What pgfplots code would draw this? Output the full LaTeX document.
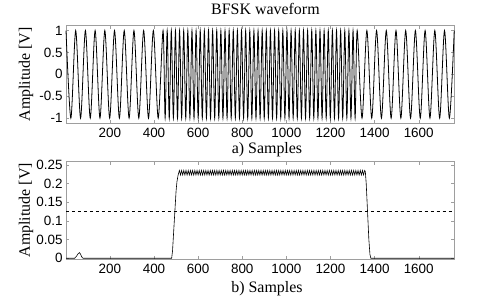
\documentclass[border=0pt]{standalone}
\usepackage{pgfplots}
\pgfplotsset{compat=1.18}
\usepackage{fontspec}
\setmainfont{Liberation Serif}
\newfontfamily\arialfont{Liberation Sans}
\definecolor{framegray}{gray}{0.62}

\pgfplotstableread{
x y
1 1
23 -1
45 1
67 -1
89 1
111 -1
133 1
155 -1
177 1
199 -1
221 1
243 -1
265 1
287 -1
309 1
331 -1
353 1
375 -1
397 1
419 -1
441.0 1
450.4 -1
459.7 1
469.1 -1
478.4 1
487.8 -1
497.2 1
506.5 -1
515.9 1
525.3 -1
534.6 1
544.0 -1
553.3 1
562.7 -1
572.1 1
581.4 -1
590.8 1
600.2 -1
609.5 1
618.9 -1
628.2 1
637.6 -1
647.0 1
656.3 -1
665.7 1
675.1 -1
684.4 1
693.8 -1
703.1 1
712.5 -1
721.9 1
731.2 -1
740.6 1
749.9 -1
759.3 1
768.7 -1
778.0 1
787.4 -1
796.8 1
806.1 -1
815.5 1
824.8 -1
834.2 1
843.6 -1
852.9 1
862.3 -1
871.7 1
881.0 -1
890.4 1
899.7 -1
909.1 1
918.5 -1
927.8 1
937.2 -1
946.5 1
955.9 -1
965.3 1
974.6 -1
984.0 1
993.4 -1
1002.7 1
1012.1 -1
1021.4 1
1030.8 -1
1040.2 1
1049.5 -1
1058.9 1
1068.3 -1
1077.6 1
1087.0 -1
1096.3 1
1105.7 -1
1115.1 1
1124.4 -1
1133.8 1
1143.2 -1
1152.5 1
1161.9 -1
1171.2 1
1180.6 -1
1190.0 1
1199.3 -1
1208.7 1
1218.0 -1
1227.4 1
1236.8 -1
1246.1 1
1255.5 -1
1264.9 1
1274.2 -1
1283.6 1
1292.9 -1
1302.3 1
1311.7 -1
1321 1
1343 -1
1365 1
1387 -1
1409 1
1431 -1
1453 1
1475 -1
1497 1
1519 -1
1541 1
1563 -1
1585 1
1607 -1
1629 1
1651 -1
1673 1
1695 -1
1717 1
1739 -1
1761 1
}\wavetable

\pgfplotstableread{
x y
1 0
40 0
48 0.005
56 0.012
62 0.015
67 0.011
72 0.004
78 0
480 0
484 0.02
488 0.06
492 0.1
496 0.14
500 0.18
504 0.205
509 0.222
515 0.235
520 0.223
525 0.235
530 0.223
535 0.235
540 0.223
545 0.235
550 0.223
555 0.235
560 0.223
565 0.235
570 0.223
575 0.235
580 0.223
585 0.235
590 0.223
595 0.235
600 0.223
605 0.235
610 0.223
615 0.235
620 0.223
625 0.235
630 0.223
635 0.235
640 0.223
645 0.235
650 0.223
655 0.235
660 0.223
665 0.235
670 0.223
675 0.235
680 0.223
685 0.235
690 0.223
695 0.235
700 0.223
705 0.235
710 0.223
715 0.235
720 0.223
725 0.235
730 0.223
735 0.235
740 0.223
745 0.235
750 0.223
755 0.235
760 0.223
765 0.235
770 0.223
775 0.235
780 0.223
785 0.235
790 0.223
795 0.235
800 0.223
805 0.235
810 0.223
815 0.235
820 0.223
825 0.235
830 0.223
835 0.235
840 0.223
845 0.235
850 0.223
855 0.235
860 0.223
865 0.235
870 0.223
875 0.235
880 0.223
885 0.235
890 0.223
895 0.235
900 0.223
905 0.235
910 0.223
915 0.235
920 0.223
925 0.235
930 0.223
935 0.235
940 0.223
945 0.235
950 0.223
955 0.235
960 0.223
965 0.235
970 0.223
975 0.235
980 0.223
985 0.235
990 0.223
995 0.235
1000 0.223
1005 0.235
1010 0.223
1015 0.235
1020 0.223
1025 0.235
1030 0.223
1035 0.235
1040 0.223
1045 0.235
1050 0.223
1055 0.235
1060 0.223
1065 0.235
1070 0.223
1075 0.235
1080 0.223
1085 0.235
1090 0.223
1095 0.235
1100 0.223
1105 0.235
1110 0.223
1115 0.235
1120 0.223
1125 0.235
1130 0.223
1135 0.235
1140 0.223
1145 0.235
1150 0.223
1155 0.235
1160 0.223
1165 0.235
1170 0.223
1175 0.235
1180 0.223
1185 0.235
1190 0.223
1195 0.235
1200 0.223
1205 0.235
1210 0.223
1215 0.235
1220 0.223
1225 0.235
1230 0.223
1235 0.235
1240 0.223
1245 0.235
1250 0.223
1255 0.235
1260 0.223
1265 0.235
1270 0.223
1275 0.235
1280 0.223
1285 0.235
1290 0.223
1295 0.235
1300 0.223
1305 0.235
1310 0.223
1315 0.235
1320 0.223
1325 0.235
1330 0.223
1335 0.235
1340 0.223
1345 0.235
1350 0.223
1355 0.235
1358 0.232
1362 0.2
1366 0.15
1370 0.1
1374 0.05
1379 0.01
1383 0
1760 0
}\envtable

\pgfplotsset{
  bfsk/.style={
    scale only axis, width=388bp,
    anchor=south west,
    xmin=1, xmax=1760,
    axis line style={framegray},
    every tick/.style={framegray},
    major tick length=3.3bp,
    tick align=inside,
    xtick={200,400,...,1600},
    /pgf/number format/1000 sep={},
    /pgf/number format/assume math mode=true,
    tick label style={font=\fontsize{13.5}{15}\arialfont},
    xticklabel style={anchor=base, yshift=-14.3bp},
    yticklabel style={anchor=east, inner sep=0pt, xshift=-3.3bp},
    label style={font=\fontsize{16}{19}\selectfont},
    xlabel style={at={(axis description cs:0.518,0)}, anchor=base, yshift=-31bp},
    ylabel style={at={(axis description cs:-0.0928,0.5)}, anchor=base, rotate=0},
    every axis plot/.append style={black, line width=0.8pt},
  }
}

\begin{document}
\begin{tikzpicture}
\useasboundingbox (0,0) rectangle (502bp,298bp);
\begin{axis}[bfsk, at={(66bp,175bp)}, height=97.3bp,
  ymin=-1.11, ymax=1.11,
  ytick={-1,-0.5,0,0.5,1},
  yticklabels={-1,-0.5,0,0.5,1},
  xlabel={a) Samples},
  ylabel={Amplitude [V]},
  clip=false,
]
\addplot[smooth, no markers] table[x=x, y=y] {\wavetable};
\node[font=\fontsize{16}{19}\selectfont, inner sep=0pt, anchor=base] at (rel axis cs:0.514,1) [yshift=11.3bp] {BFSK waveform};
\end{axis}
\begin{axis}[bfsk, at={(66bp,39bp)}, height=97.5bp,
  ymin=-0.002, ymax=0.259,
  ytick={0,0.05,0.1,0.15,0.2,0.25},
  yticklabels={0,0.05,0.1,0.15,0.2,0.25},
  xlabel={b) Samples},
  ylabel={Amplitude [V]},
  xlabel style={yshift=-2bp},
]
\addplot[no markers, line width=0.6pt] table[x=x, y=y] {\envtable};
\addplot[no markers, dashed, line width=0.6pt] coordinates {(1,0.125) (1760,0.125)};
\end{axis}
\end{tikzpicture}
\end{document}
